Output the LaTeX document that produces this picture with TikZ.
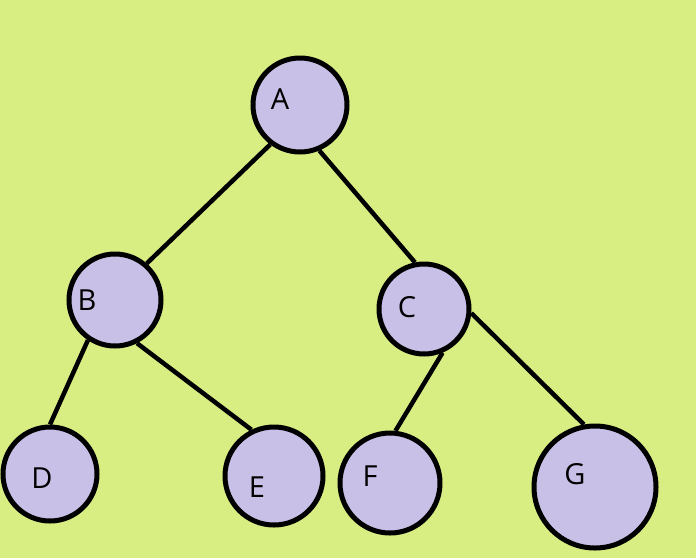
\documentclass[tikz,border=0pt]{standalone}
\usepackage{fontspec}
\setmainfont{Open Sans}
\usetikzlibrary{positioning}
\definecolor{bgreen}{RGB}{216,238,130}
\definecolor{lavnd}{RGB}{200,192,230}
\tikzset{
  vert/.style={circle,draw=black,fill=lavnd,line width=5pt,inner sep=0pt},
  lbl/.style={font=\fontsize{29}{32}\selectfont,inner sep=0pt},
  edge/.style={line width=4.5pt},
}
\begin{document}
\begin{tikzpicture}[x=1pt,y=-1pt]
  \fill[bgreen] (0,0) rectangle (696,558);
  \useasboundingbox (0,0) rectangle (696,558);
  % vertices
  \node[vert,minimum size=94pt] (A) at (300,105) {};
  \node[vert,minimum size=92pt] (B) at (115,300) {};
  \node[vert,minimum size=90pt] (C) at (424,309) {};
  \node[vert,minimum size=94pt] (D) at (50,474) {};
  \node[vert,minimum size=98pt] (E) at (274,476) {};
  \node[vert,minimum size=100pt] (F) at (390,483) {};
  \node[vert,minimum size=122pt] (G) at (595,487) {};
  % labels
  \node[lbl] (lA) at (280,99) {A};
  \node[lbl] (lB) at (87,300) {B};
  \node[lbl] (lC) at (407,307) {C};
  \node[lbl] (lD) at (42,478) {D};
  \node[lbl] (lE) at (257,487) {E};
  \node[lbl] (lF) at (370,476) {F};
  \node[lbl] (lG) at (575,474) {G};
  % edges
  \foreach \p/\a/\c/\b in {A/-127/B/49, A/-67/C/101, B/-124/D/90,
                           B/-63/E/116, C/-67/F/84, C/-5/G/100}
    \draw[edge] (\p.\a) -- (\c.\b);
\end{tikzpicture}
\end{document}
